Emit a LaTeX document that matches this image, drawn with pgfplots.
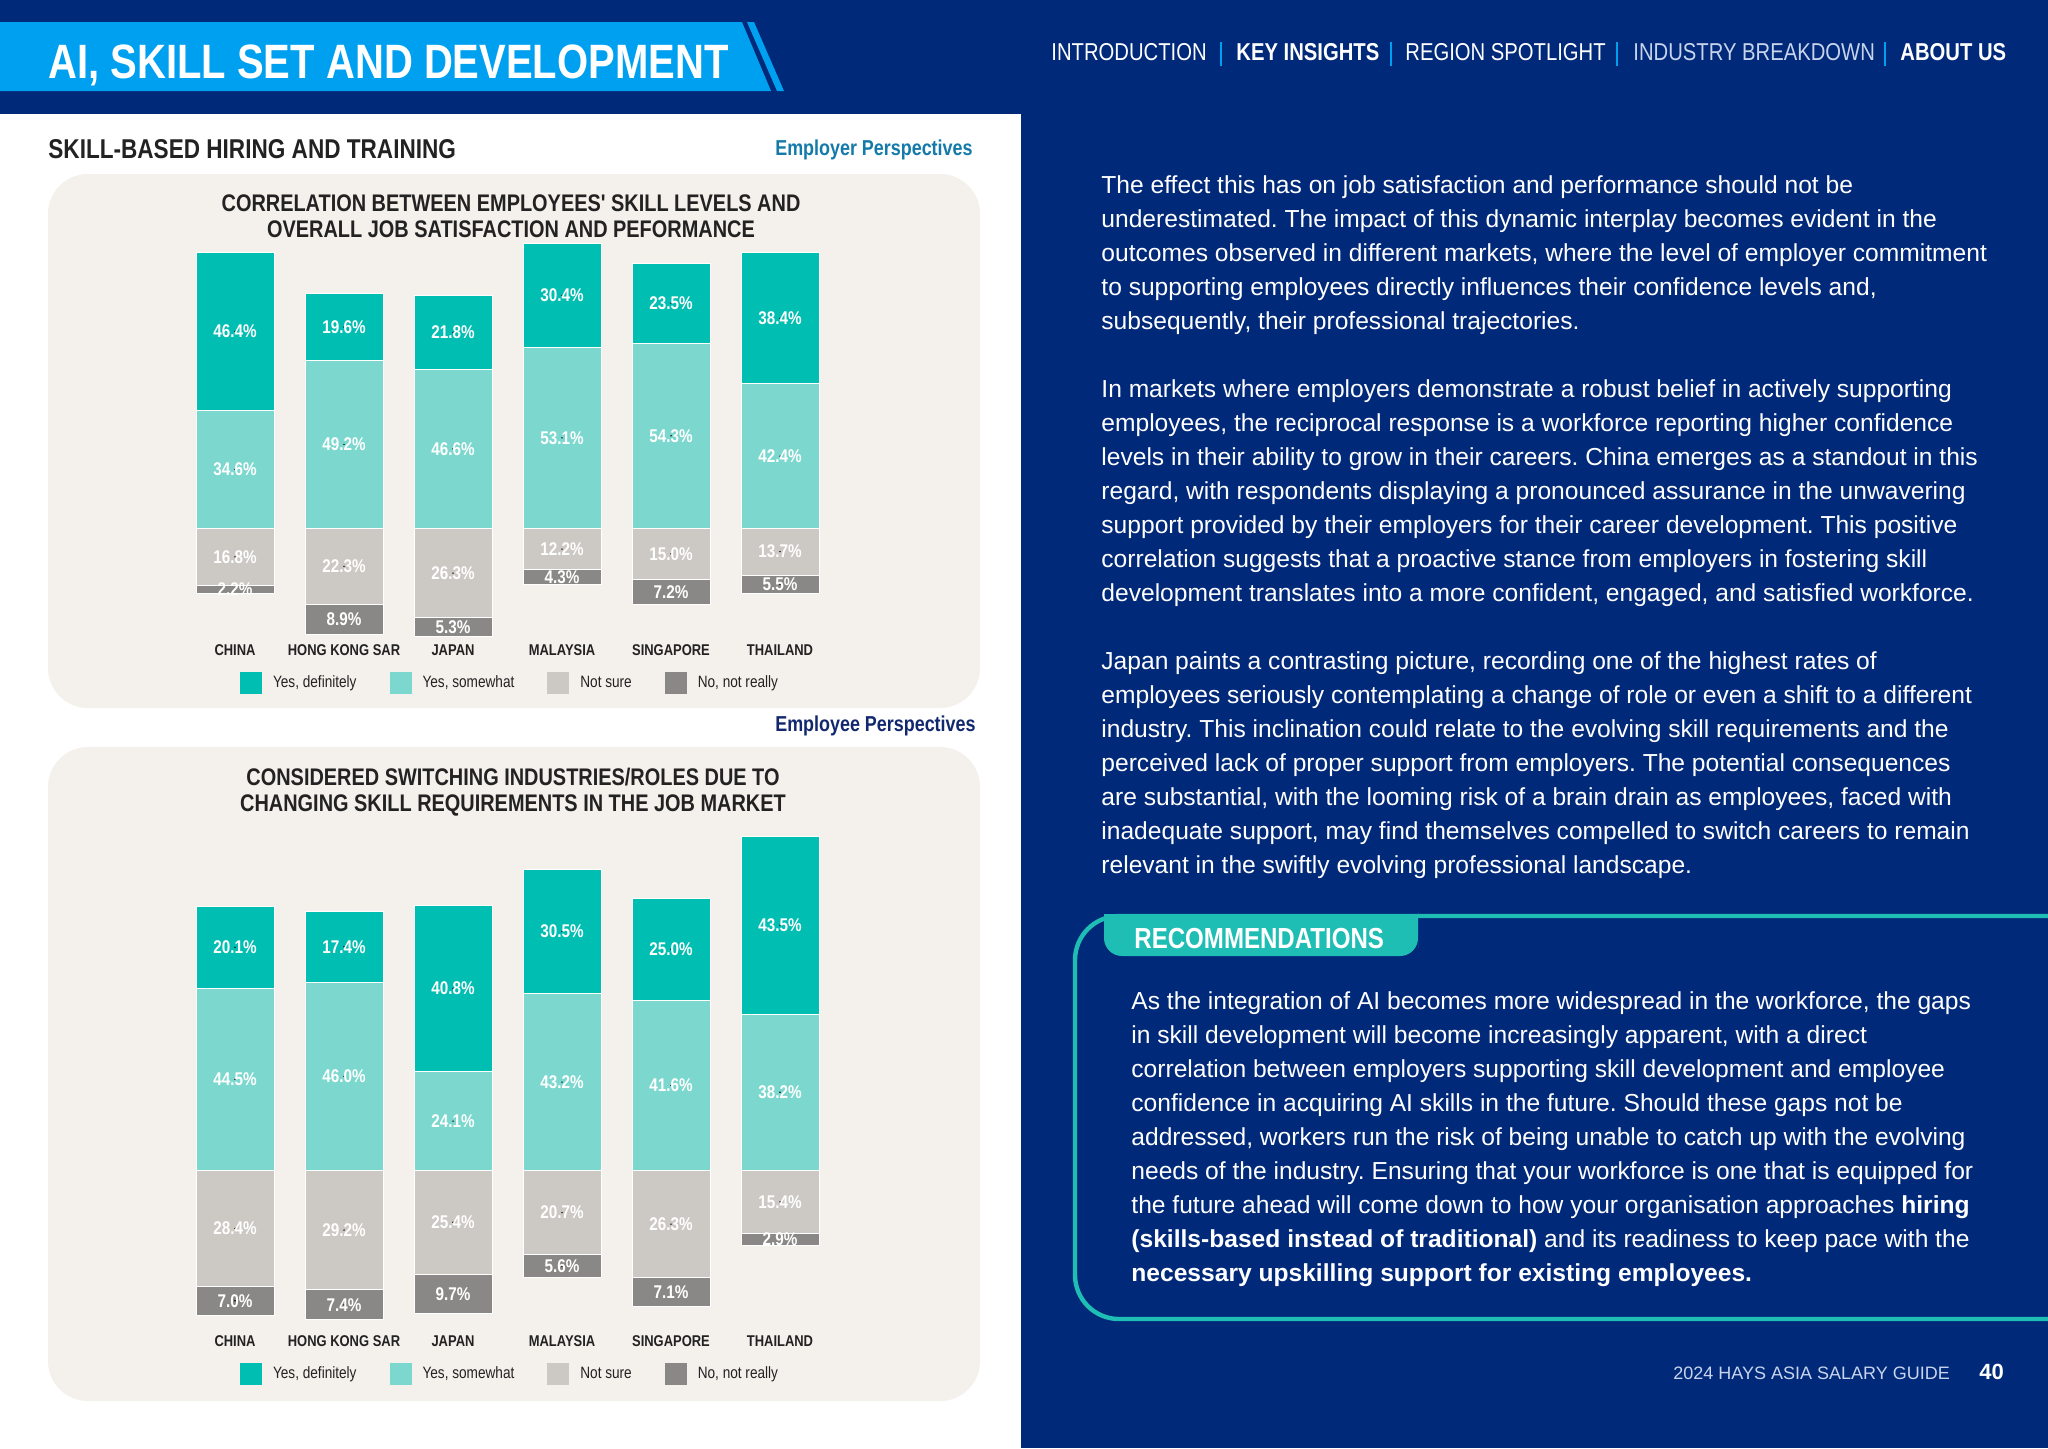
\documentclass[border=0pt]{standalone}
\usepackage{fontspec}
\setmainfont{Liberation Sans}
\newfontfamily\cond[FakeStretch=0.83]{Liberation Sans}
\usepackage{pgfplots}
\usepackage{pgfplotstable}
\pgfplotsset{compat=1.18}
\frenchspacing

\definecolor{navy}{RGB}{0,41,122}
\definecolor{bandblue}{RGB}{0,160,240}
\definecolor{tealdark}{RGB}{0,190,178}
\definecolor{teallight}{RGB}{124,216,206}
\definecolor{notsure}{RGB}{204,200,195}
\definecolor{notreally}{RGB}{138,136,134}
\definecolor{beige}{RGB}{244,240,235}
\definecolor{empblue}{RGB}{20,122,170}
\definecolor{empnavy}{RGB}{18,40,110}
\definecolor{recteal}{RGB}{30,190,180}
\definecolor{inkdark}{RGB}{34,34,34}
\definecolor{navdim}{RGB}{200,212,236}

% columns: yes definitely, yes somewhat, not sure, no not really
\pgfplotstableread{
x def som ns no
0 46.4 34.6 16.8 2.2
1 19.6 49.2 22.3 8.9
2 21.8 46.6 26.3 5.3
3 30.4 53.1 12.2 4.3
4 23.5 54.3 15.0 7.2
5 38.4 42.4 13.7 5.5
}\satisfaction

\pgfplotstableread{
x def som ns no
0 20.1 44.5 28.4 7.0
1 17.4 46.0 29.2 7.4
2 40.8 24.1 25.4 9.7
3 30.5 43.2 20.7 5.6
4 25.0 41.6 26.3 7.1
5 43.5 38.2 15.4 2.9
}\switching

\pgfplotsset{
  stackchart/.style={
    scale only axis, x=54.5pt, xmin=-0.5, xmax=5.5, ymax=90,
    clip=false, anchor=origin,
    axis line style={draw=none}, major tick length=0pt, ytick=\empty,
    xtick={0,...,5},
    xticklabels={CHINA,HONG KONG SAR,JAPAN,MALAYSIA,SINGAPORE,THAILAND},
    xticklabel style={font=\cond\bfseries\fontsize{7.8}{9}\selectfont, text=inkdark,
      text height=5.8pt, text depth=0pt},
    legend columns=4,
    legend image code/.code={\fill[##1, draw=none] (0pt,-5.5pt) rectangle (11pt,5.5pt);},
    legend style={draw=none, fill=none, anchor=center,
      font=\cond\fontsize{8.2}{10}\selectfont, text=inkdark,
      /tikz/every even column/.append style={column sep=14.5pt},
      /tikz/every odd column/.append style={column sep=3.5pt}},
  },
  segbar/.style={ybar, bar width=39pt, bar shift=0pt, draw=white,
    line width=0.5pt, fill=#1, forget plot},
  seglab/.style={only marks, mark=*, mark size=0.1pt,
    mark options={draw=none, fill=none}, point meta=explicit,
    nodes near coords={\pgfmathprintnumber[fixed,fixed zerofill,precision=1,assume math mode=true]{\pgfplotspointmeta}\%},
    nodes near coords align=center,
    every node near coord/.append style={anchor=center, text=white, inner sep=0pt,
      font=\cond\bfseries\fontsize{9.2}{10}\selectfont},
    forget plot},
}

\begin{document}
\begin{tikzpicture}
\begin{scope}[x=0.5pt,y=-0.5pt]
  \useasboundingbox (0,0) rectangle (2048,1448);
  \fill[navy] (0,0) rectangle (2048,1448);
  % header band
  \fill[bandblue] (0,22) -- (742,22) -- (771,91) -- (0,91) -- cycle;
  \fill[bandblue] (747,22) -- (754,22) -- (784,91) -- (777,91) -- cycle;
  \node[anchor=base west, inner sep=0pt, text=white,
    font=\cond\bfseries\fontsize{24.1}{28}\selectfont] at (48,78) {AI, SKILL SET AND DEVELOPMENT};
  % navigation
  \begin{scope}[every node/.style={anchor=base west, inner sep=0pt, text=white,
      font=\cond\fontsize{12.2}{14}\selectfont}]
    \node at (1051,60.7) {INTRODUCTION};
    \node at (1236,60.7) {\bfseries KEY INSIGHTS};
    \node at (1405,60.7) {REGION SPOTLIGHT};
    \node[text=navdim] at (1633,60.7) {INDUSTRY BREAKDOWN};
    \node at (1900,60.7) {\bfseries ABOUT US};
  \end{scope}
  \foreach \sx in {1221,1391,1617,1885}
    \draw[bandblue, line width=1pt] (\sx,42) -- (\sx,66);
  % left white panel
  \fill[white] (0,114) rectangle (1021,1448);
  \node[anchor=base west, inner sep=0pt, text=inkdark,
    font=\cond\bfseries\fontsize{13.6}{16}\selectfont] at (48,158) {SKILL-BASED HIRING AND TRAINING};
  \node[anchor=base east, inner sep=0pt, text=empblue,
    font=\cond\bfseries\fontsize{10.8}{13}\selectfont] at (973,155.5) {Employer Perspectives};
  \node[anchor=base east, inner sep=0pt, text=empnavy,
    font=\cond\bfseries\fontsize{10.8}{13}\selectfont] at (976,731.5) {Employee Perspectives};
  \fill[beige, rounded corners=20pt] (48,174) rectangle (980,708);
  \fill[beige, rounded corners=20pt] (48,747) rectangle (980,1401);
  \begin{scope}[every node/.style={anchor=base, inner sep=0pt, text=inkdark,
      font=\cond\bfseries\fontsize{12}{14}\selectfont}]
    \node at (511,211.5) {CORRELATION BETWEEN EMPLOYEES' SKILL LEVELS AND};
    \node at (511,237.7) {OVERALL JOB SATISFACTION AND PEFORMANCE};
    \node at (513,785) {CONSIDERED SWITCHING INDUSTRIES/ROLES DUE TO};
    \node at (513,811) {CHANGING SKILL REQUIREMENTS IN THE JOB MARKET};
  \end{scope}
  % right column text
  \node[anchor=north west, inner sep=0pt, align=left, text=white,
    font=\fontsize{12.3}{17}\selectfont] at (1101,175) {%
    The effect this has on job satisfaction and performance should not be\\
    underestimated. The impact of this dynamic interplay becomes evident in the\\
    outcomes observed in different markets, where the level of employer commitment\\
    to supporting employees directly influences their confidence levels and,\\
    subsequently, their professional trajectories.\\[17pt]
    In markets where employers demonstrate a robust belief in actively supporting\\
    employees, the reciprocal response is a workforce reporting higher confidence\\
    levels in their ability to grow in their careers. China emerges as a standout in this\\
    regard, with respondents displaying a pronounced assurance in the unwavering\\
    support provided by their employers for their career development. This positive\\
    correlation suggests that a proactive stance from employers in fostering skill\\
    development translates into a more confident, engaged, and satisfied workforce.\\[17pt]
    Japan paints a contrasting picture, recording one of the highest rates of\\
    employees seriously contemplating a change of role or even a shift to a different\\
    industry. This inclination could relate to the evolving skill requirements and the\\
    perceived lack of proper support from employers. The potential consequences\\
    are substantial, with the looming risk of a brain drain as employees, faced with\\
    inadequate support, may find themselves compelled to switch careers to remain\\
    relevant in the swiftly evolving professional landscape.};
  % recommendations box
  \draw[recteal, line width=2.2pt, rounded corners=22pt]
    (2070,916) -- (1075,916) -- (1075,1319) -- (2070,1319);
  \fill[recteal] (1104,914) [rounded corners=9pt] -- (1104,956) -- (1418,956)
    -- (1418,930) [sharp corners] -- (1418,914) -- cycle;
  \node[anchor=base west, inner sep=0pt, text=white,
    font=\cond\bfseries\fontsize{14.5}{17}\selectfont] at (1134,948) {RECOMMENDATIONS};
  \node[anchor=north west, inner sep=0pt, align=left, text=white,
    font=\fontsize{12.3}{17}\selectfont] at (1131,991) {%
    As the integration of AI becomes more widespread in the workforce, the gaps\\
    in skill development will become increasingly apparent, with a direct\\
    correlation between employers supporting skill development and employee\\
    confidence in acquiring AI skills in the future. Should these gaps not be\\
    addressed, workers run the risk of being unable to catch up with the evolving\\
    needs of the industry. Ensuring that your workforce is one that is equipped for\\
    the future ahead will come down to how your organisation approaches \textbf{hiring}\\
    \textbf{(skills-based instead of traditional)} and its readiness to keep pace with the\\
    \textbf{necessary upskilling support for existing employees.}};
  % footer
  \node[anchor=base west, inner sep=0pt, text=navdim,
    font=\fontsize{9}{11}\selectfont] at (1673,1379) {2024 HAYS ASIA SALARY GUIDE};
  \node[anchor=base west, inner sep=0pt, text=white,
    font=\bfseries\fontsize{11}{13}\selectfont] at (1979,1379) {40};
\end{scope}

% chart 1: skill levels vs job satisfaction
\begin{axis}[stackchart, at={(117.5pt,-264.15pt)}, y=1.7045pt, ymin=-31.7,
    legend style={at={(0.5054,-0.1126)}}]
  \addplot[segbar=tealdark] table[x=x, y expr=\thisrow{som}+\thisrow{def}] {\satisfaction};
  \addplot[segbar=teallight] table[x=x, y=som] {\satisfaction};
  \addplot[segbar=notreally] table[x=x, y expr=-\thisrow{ns}-\thisrow{no}] {\satisfaction};
  \addplot[segbar=notsure] table[x=x, y expr=-\thisrow{ns}] {\satisfaction};
  \addplot[seglab] table[x=x, y expr=\thisrow{som}+0.5*\thisrow{def}, meta=def] {\satisfaction};
  \addplot[seglab] table[x=x, y expr=0.5*\thisrow{som}, meta=som] {\satisfaction};
  \addplot[seglab] table[x=x, y expr=-0.5*\thisrow{ns}, meta=ns] {\satisfaction};
  \addplot[seglab] table[x=x, y expr=-\thisrow{ns}-0.5*\thisrow{no}, meta=no] {\satisfaction};
  \addlegendimage{fill=tealdark}\addlegendentry{Yes, definitely\vphantom{Yy}}
  \addlegendimage{fill=teallight}\addlegendentry{Yes, somewhat\vphantom{Yy}}
  \addlegendimage{fill=notsure}\addlegendentry{Not sure\vphantom{Yy}}
  \addlegendimage{fill=notreally}\addlegendentry{No, not really\vphantom{Yy}}
\end{axis}

% chart 2: considered switching industries or roles
\begin{axis}[stackchart, at={(117.5pt,-585.15pt)}, y=2.044pt, ymin=-38.6,
    legend style={at={(0.5054,-0.0876)}}]
  \addplot[segbar=tealdark] table[x=x, y expr=\thisrow{som}+\thisrow{def}] {\switching};
  \addplot[segbar=teallight] table[x=x, y=som] {\switching};
  \addplot[segbar=notreally] table[x=x, y expr=-\thisrow{ns}-\thisrow{no}] {\switching};
  \addplot[segbar=notsure] table[x=x, y expr=-\thisrow{ns}] {\switching};
  \addplot[seglab] table[x=x, y expr=\thisrow{som}+0.5*\thisrow{def}, meta=def] {\switching};
  \addplot[seglab] table[x=x, y expr=0.5*\thisrow{som}, meta=som] {\switching};
  \addplot[seglab] table[x=x, y expr=-0.5*\thisrow{ns}, meta=ns] {\switching};
  \addplot[seglab] table[x=x, y expr=-\thisrow{ns}-0.5*\thisrow{no}, meta=no] {\switching};
  \addlegendimage{fill=tealdark}\addlegendentry{Yes, definitely\vphantom{Yy}}
  \addlegendimage{fill=teallight}\addlegendentry{Yes, somewhat\vphantom{Yy}}
  \addlegendimage{fill=notsure}\addlegendentry{Not sure\vphantom{Yy}}
  \addlegendimage{fill=notreally}\addlegendentry{No, not really\vphantom{Yy}}
\end{axis}
\end{tikzpicture}
\end{document}
